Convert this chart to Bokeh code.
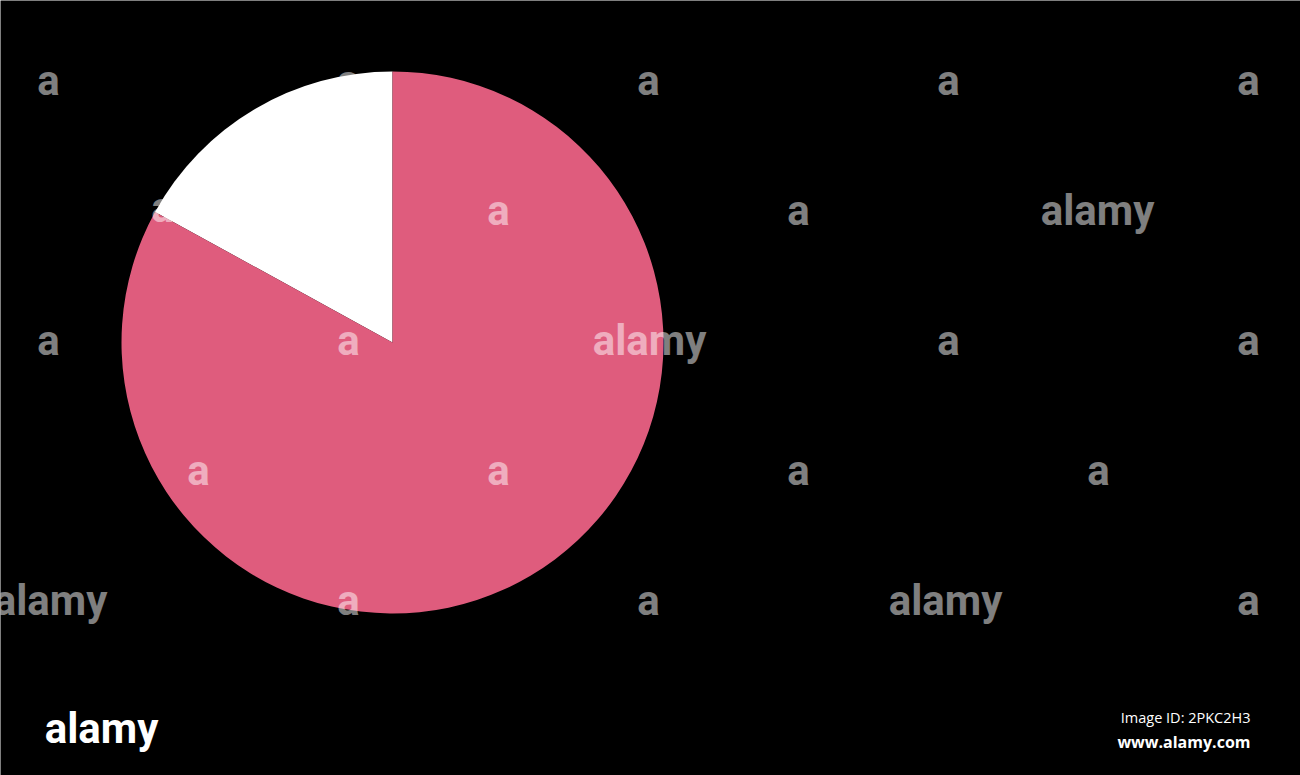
from bokeh.plotting import figure
from bokeh.models import Range1d, ColumnDataSource
from bokeh.core.properties import value
from bokeh.embed import file_html
from bokeh.resources import INLINE
import numpy as np
import re

# Data
categories = ["Share A", "Share B"]
shares = [17, 83]
colors = ["#ffffff", "#df5c7d"]

# watermark texts (screen-like layout coords)
wm_text = ["a", "a", "a", "a", "a",
           "a", "a", "a", "alamy",
           "a", "a", "alamy", "a", "a",
           "a", "a", "a", "a",
           "alamy", "a", "a", "alamy", "a"]
wm_x = [48, 348, 648, 948, 1248,
        162, 498, 798, 1097,
        48, 348, 649, 948, 1248,
        198, 498, 798, 1098,
        50, 348, 648, 945, 1248]
wm_y = [80, 80, 80, 80, 80,
        207, 210, 210, 210,
        340, 340, 340, 340, 340,
        470, 470, 470, 470,
        600, 600, 600, 600, 600]

FONT = "Roboto"

W, H = 1300, 775
p = figure(width=W, height=H, output_backend="svg", toolbar_location=None,
           x_range=Range1d(0, W), y_range=Range1d(0, H),
           background_fill_color="black", border_fill_color="black",
           min_border=0, outline_line_color=None)
p.axis.visible = False
p.grid.visible = False

frac = np.array(shares, dtype=float) / sum(shares)
ends = np.pi / 2 + np.cumsum(frac) * 2 * np.pi
starts = np.concatenate([[np.pi / 2], ends[:-1]])
src = ColumnDataSource(dict(cat=categories, start=list(starts), end=list(ends), color=colors,
                            x=[392] * len(categories), y=[H - 342] * len(categories)))
p.wedge(x="x", y="y", radius=271, start_angle="start", end_angle="end",
        fill_color="color", line_color=None, source=src)

wsrc = ColumnDataSource(dict(x=wm_x, y=[H - v for v in wm_y], t=wm_text))
p.text(x="x", y="y", text="t", source=wsrc, text_color="white", text_alpha=0.5,
       text_font=value(FONT), text_font_style="bold",
       text_font_size="42px", text_align="center", text_baseline="middle")

p.text(x=[101], y=[H - 728], text=["alamy"], text_color="white",
       text_font=value(FONT), text_font_style="bold",
       text_font_size="42px", text_align="center", text_baseline="middle")
p.text(x=[1250], y=[H - 717], text=["Image ID: 2PKC2H3"], text_color="white",
       text_font=value("Open Sans"), text_font_size="14.5px",
       text_align="right", text_baseline="middle")
p.text(x=[1250], y=[H - 741], text=["www.alamy.com"], text_color="white",
       text_font=value("Open Sans"), text_font_style="bold", text_font_size="16px",
       text_align="right", text_baseline="middle")

html = file_html(p, INLINE)
html = re.sub(r"<body[^>]*>", '<body style="margin:0;padding:0;background:#000000;overflow:hidden;">', html, count=1)
open("out.html", "w").write(html)
